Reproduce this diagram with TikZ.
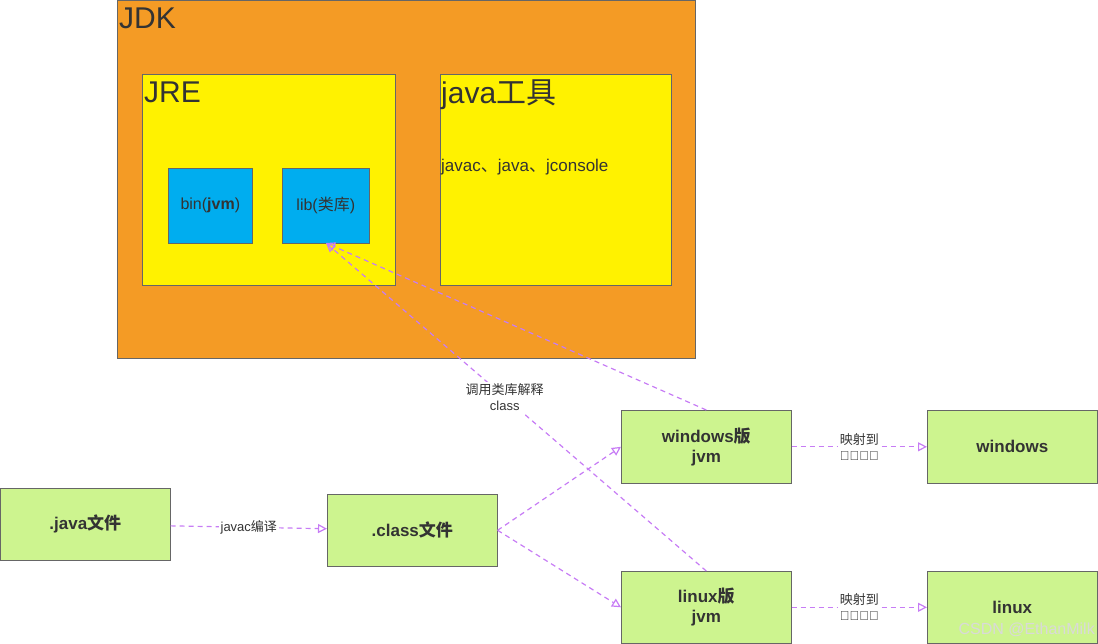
\documentclass[tikz,border=0pt]{standalone}
\usepackage{fontspec}
\setmainfont{Liberation Sans}
\newfontfamily\cjk{Noto Sans CJK SC}
\usetikzlibrary{arrows.meta}
\definecolor{jdk}{HTML}{F49B25}
\definecolor{grn}{HTML}{CDF48F}
\definecolor{arr}{HTML}{C77CF5}
\definecolor{txt}{HTML}{333333}
\begin{document}
\begin{tikzpicture}[x=1pt,y=-1pt,
  box/.style={draw=gray!80!black,line width=0.6pt,anchor=north west,inner sep=0pt},
  gbox/.style={box,fill=grn,minimum width=170pt,minimum height=72pt,align=center,font=\bfseries\fontsize{17}{20}\selectfont,text=txt},
  cbox/.style={box,fill=cyan,minimum height=75pt,font=\fontsize{16}{19}\selectfont,text=txt},
  con/.style={draw=arr,line width=1.2pt,dash pattern=on 5pt off 4pt,-{Triangle[open,length=9pt,width=9pt]}},
  lbl/.style={fill=white,font=\fontsize{13}{16}\selectfont,align=center,text=txt,inner sep=2pt}]
\useasboundingbox (0,0) rectangle (1098,644);
\node[box,fill=jdk,minimum width=578pt,minimum height=358pt] (jdk) at (117,0) {};
\node[anchor=north west,font=\fontsize{30}{34}\selectfont,text=txt,inner sep=0pt] (jdkt) at (119,8) {JDK};
\node[box,fill=yellow,minimum width=253pt,minimum height=211pt] (jre) at (142,74) {};
\node[anchor=north west,font=\fontsize{30}{34}\selectfont,text=txt,inner sep=0pt] (jret) at (144,82) {JRE};
\node[box,fill=yellow,minimum width=231pt,minimum height=211pt] (tool) at (440,74) {};
\node[anchor=north west,font=\fontsize{30}{34}\selectfont,text=txt,inner sep=0pt] (toolt) at (441,80) {java{\cjk 工具}};
\node[anchor=west,font=\fontsize{17}{20}\selectfont,text=txt,inner sep=0pt] (toolx) at (441,167) {javac{\cjk 、}java{\cjk 、}jconsole};
\node[cbox,minimum width=84pt] (bin) at (168,168) {bin(\textbf{jvm})};
\node[cbox,minimum width=87pt] (lib) at (282,168) {lib({\cjk 类库})};
\node[gbox] (java) at (0,488) {.java{\cjk 文件}};
\node[gbox] (class) at (327,494) {.class{\cjk 文件}};
\node[gbox,minimum height=73pt] (wjvm) at (621,410) {windows{\cjk 版}\\jvm};
\node[gbox] (ljvm) at (621,571) {linux{\cjk 版}\\jvm};
\node[gbox,minimum height=73pt] (win) at (927,410) {windows};
\node[gbox] (lin) at (927,571) {linux};
\coordinate (libin) at (326,243);
\draw[con] (java) -- node[lbl] {javac{\cjk 编译}} (class);
\draw[con] (class.east) -- (wjvm.west);
\draw[con] (class.east) -- (ljvm.west);
\draw[con] (wjvm) -- node[lbl] {\cjk 映射到\\系统调用} (win);
\draw[con] (ljvm) -- node[lbl] {\cjk 映射到\\系统调用} (lin);
\draw[con] (wjvm.north) -- (libin);
\draw[con] (ljvm.north) -- node[lbl,pos=0.53] {{\cjk 调用类库解释}\\class} (libin);
\node[anchor=south east,font=\fontsize{16}{19}\selectfont,text=white!70!gray,inner sep=3pt] (wm) at (1098,640) {CSDN @EthanMilk};
\end{tikzpicture}
\end{document}
